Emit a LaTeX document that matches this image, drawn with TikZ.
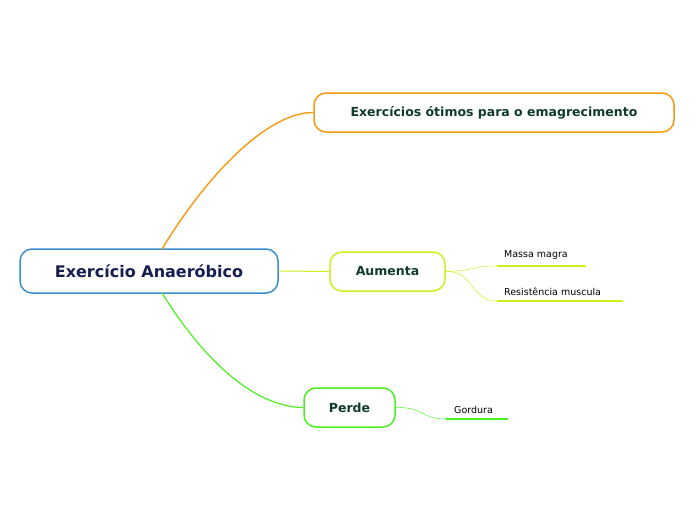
\documentclass[tikz,border=0pt]{standalone}
\usepackage{fontspec}
\setmainfont{DejaVu Sans}
\begin{document}
\begin{tikzpicture}[x=1pt,y=-1pt,
  box/.style={draw,rounded corners=12pt,line width=1.5pt,inner sep=0pt,font=\bfseries},
  leaf/.style={font=\fontsize{9.5}{11}\selectfont,anchor=south west,inner sep=1pt}]
\definecolor{org}{HTML}{F59A10}
\definecolor{ygr}{HTML}{CCF01E}
\definecolor{grn}{HTML}{4CF020}
\definecolor{blu}{HTML}{3A8ED0}
\definecolor{dgr}{HTML}{0E3B2E}
\useasboundingbox (0,0) rectangle (696,520);
\node[box,draw=blu,minimum width=258pt,minimum height=44pt,font=\bfseries\fontsize{16}{19}\selectfont,text={rgb,255:red,20;green,30;blue,80}] (root) at (149,271) {Exercício Anaeróbico};
\node[box,draw=org,minimum width=360pt,minimum height=39pt,font=\bfseries\fontsize{12.5}{15}\selectfont,text=dgr] (top) at (494,112.5) {Exercícios ótimos para o emagrecimento};
\node[box,draw=ygr,minimum width=115pt,minimum height=39pt,font=\bfseries\fontsize{12.5}{15}\selectfont,text=dgr] (aum) at (387.5,271.5) {Aumenta};
\node[box,draw=grn,minimum width=91pt,minimum height=39pt,font=\bfseries\fontsize{12.5}{15}\selectfont,text=dgr] (per) at (349.5,407.5) {Perde};
\coordinate (rt) at (162,249);
\coordinate (rb) at (162,293);
\draw[org,line width=1.4pt] (rt) .. controls (210,170) and (270,112) .. (top.west);
\draw[grn,line width=1.2pt] (rb) .. controls (210,370) and (260,407) .. (per.west);
\draw[ygr,line width=1pt] (root.east) -- (aum.west);
\node[leaf] (m) at (503,261) {Massa magra};
\node[leaf] (r) at (503,297) {Resistência muscula};
\node[leaf] (g) at (453,415) {Gordura};
\coordinate (m1) at (497,266); \coordinate (m2) at (586,266);
\coordinate (r1) at (497,301); \coordinate (r2) at (623,301);
\coordinate (g1) at (446,419); \coordinate (g2) at (508,419);
\draw[ygr,line width=2.5pt] (m1) -- (m2);
\draw[ygr,line width=2.5pt] (r1) -- (r2);
\draw[grn,line width=2.5pt] (g1) -- (g2);
\draw[ygr,line width=0.5pt] (aum.east) .. controls (475,271) and (470,266) .. (m1);
\draw[ygr,line width=0.5pt] (aum.east) .. controls (475,271) and (470,301) .. (r1);
\draw[grn,line width=0.5pt] (per.east) .. controls (425,407) and (420,419) .. (g1);
\end{tikzpicture}
\end{document}
